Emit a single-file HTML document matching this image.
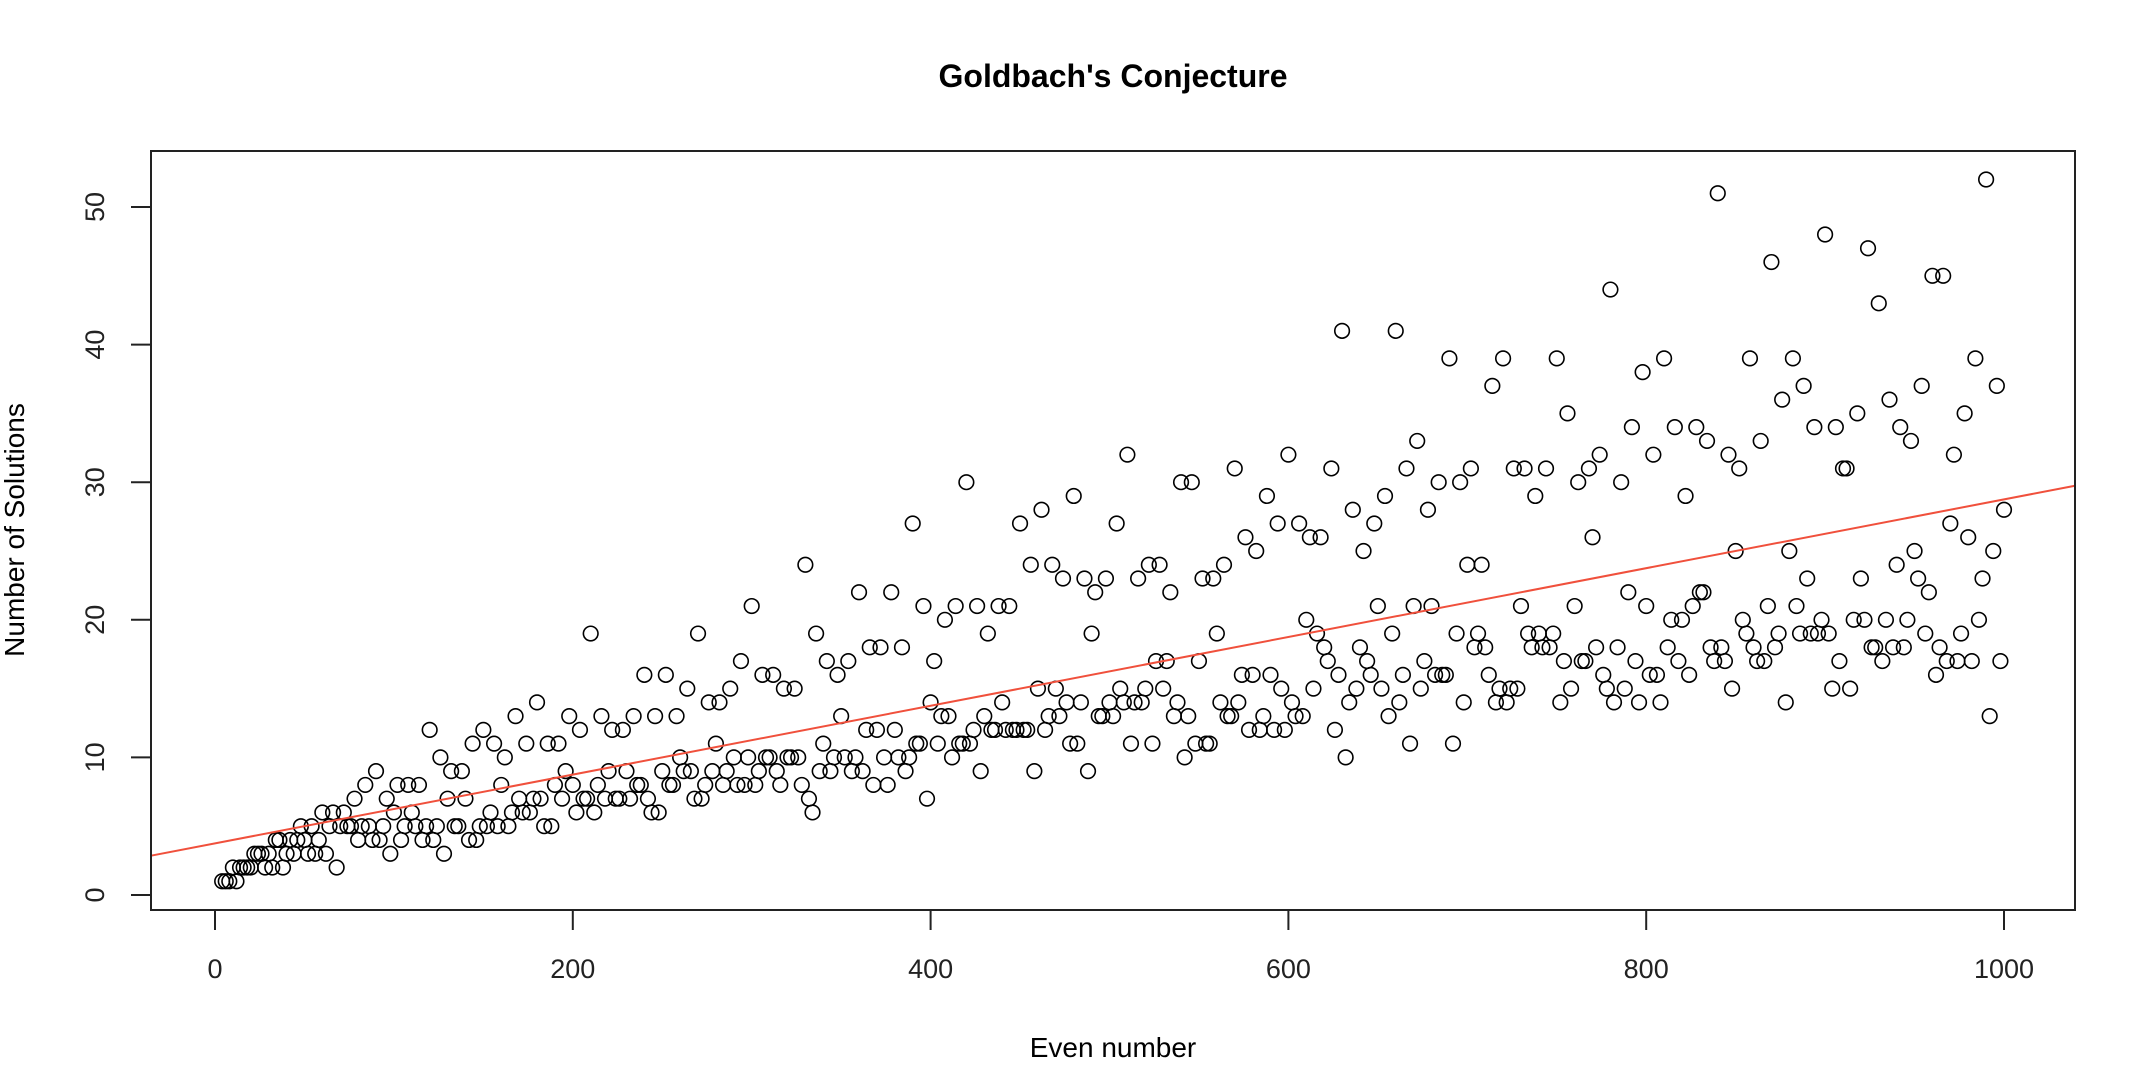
<!DOCTYPE html>
<html><head><meta charset="utf-8"><style>
html,body{margin:0;padding:0;background:#fff;}
svg{display:block;font-family:"Liberation Sans",Arial,sans-serif;}
</style></head><body>
<svg id="chart" width="2142" height="1092" viewBox="0 0 2142 1092" xmlns="http://www.w3.org/2000/svg">
<rect width="2142" height="1092" fill="#fff"/>
<text x="1113" y="87" font-size="32" font-weight="bold" text-anchor="middle" fill="#000">Goldbach's Conjecture</text>
<text x="1113" y="1057" font-size="28" text-anchor="middle" fill="#000">Even number</text>
<text transform="translate(24,530) rotate(-90)" font-size="28" text-anchor="middle" fill="#000">Number of Solutions</text>
<g id="marks"></g>
<rect x="151" y="151" width="1924" height="759" fill="none" stroke="#222" stroke-width="2"/>
<g id="axes"></g>
</svg>
<script>
const solutions = [
1,1,1,2,1,2,2,2,2,3, 3,3,2,3,2,4,4,2,3,4, 3,4,5,4,3,5,3,4,6,3, 5,6,2,5,6,5,5,7,4,5, 8,5,4,9,4,5,7,3,6,
8,4,5,8,6,5,8,4,5,12,
4,5,10,3,7,9,5,5,9,7,
4,11,4,5,12,5,6,11,5,8,
10,5,6,13,7,6,11,6,7,14,
7,5,11,5,8,11,7,9,13,8,
6,12,7,7,19,6,8,13,7,9,
12,7,7,12,9,7,13,8,8,16,
7,6,13,6,9,16,8,8,13,10,
9,15,9,7,19,7,8,14,9,11,
14,8,9,15,10,8,17,8,10,21,
8,9,16,10,10,16,9,8,15,10,
10,15,10,8,24,7,6,19,9,11,
17,9,10,16,13,10,17,9,10,22,
9,12,18,8,12,18,10,8,22,12,
10,18,9,10,27,11,11,21,7,14,
17,11,13,20,13,10,21,11,11,30,
11,12,21,9,13,19,12,12,21,14,
12,21,12,12,27,12,12,24,9,15,
28,12,13,24,15,13,23,14,11,29,
11,14,23,9,19,22,13,13,23,14,
13,27,15,14,32,11,14,23,14,15,
24,11,17,24,15,17,22,13,14,30,
10,13,30,11,17,23,11,11,23,19,
14,24,13,13,31,14,16,26,12,16,
25,12,13,29,16,12,27,15,12,32,
14,13,27,13,20,26,15,19,26,18,
17,31,12,16,41,10,14,28,15,18,
25,17,16,27,21,15,29,13,19,41,
14,16,31,11,21,33,15,17,28,21,
16,30,16,16,39,11,19,30,14,24,
31,18,19,24,18,16,37,14,15,39,
14,15,31,15,21,31,19,18,29,19,
18,31,18,19,39,14,17,35,15,21,
30,17,17,31,26,18,32,16,15,44,
14,18,30,15,22,34,17,14,38,21,
16,32,16,14,39,18,20,34,17,20,
29,16,21,34,22,22,33,18,17,51,
18,17,32,15,25,31,20,19,39,18,
17,33,17,21,46,18,19,36,14,25,
39,21,19,37,23,19,34,19,20,48,
19,15,34,17,31,31,15,20,35,23,
20,47,18,18,43,17,20,36,18,24,
34,18,20,33,25,23,37,19,22,45,
16,18,45,17,27,32,17,19,35,26,
17,39,20,23,52,13,25,37,17,28];
const evenNumbers = solutions.map((_, i) => 4 + 2 * i);
const xTicks = [0, 200, 400, 600, 800, 1000];
const yTicks = [0, 10, 20, 30, 40, 50];
const NS = "http://www.w3.org/2000/svg";
const xScale = v => 215 + (v / 1000) * (2004 - 215);
const yScale = v => 895 - (v / 50) * (895 - 207);
const marks = document.getElementById('marks');
const axes = document.getElementById('axes');
function mk(tag, attrs, parent) {
  const el = document.createElementNS(NS, tag);
  for (const k in attrs) el.setAttribute(k, attrs[k]);
  parent.appendChild(el);
  return el;
}
evenNumbers.forEach((n, i) => {
  const c = mk('circle', {cx: xScale(n), cy: yScale(solutions[i]), r: 7.3, fill: 'none', stroke: '#000', 'stroke-width': 1.6}, marks);
  
  
});
const N = solutions.length;
const mx = evenNumbers.reduce((a, b) => a + b, 0) / N;
const my = solutions.reduce((a, b) => a + b, 0) / N;
let sxy = 0, sxx = 0;
for (let i = 0; i < N; i++) { sxy += (evenNumbers[i] - mx) * (solutions[i] - my); sxx += (evenNumbers[i] - mx) ** 2; }
const slope = sxy / sxx, intercept = my - slope * mx;
const x0 = (151 - 215) * 1000 / (2004 - 215), x1 = (2075 - 215) * 1000 / (2004 - 215);
const line = mk('line', {x1: 151, y1: yScale(intercept + slope * x0), x2: 2075, y2: yScale(intercept + slope * x1), stroke: '#f0503c', 'stroke-width': 2}, marks);


const xAxisLine = mk('line', {x1: xScale(xTicks[0]), y1: 910, x2: xScale(xTicks[xTicks.length - 1]), y2: 910, stroke: '#222', 'stroke-width': 2}, axes);


xTicks.forEach(t => {
  const tk = mk('line', {x1: xScale(t), y1: 910, x2: xScale(t), y2: 930, stroke: '#222', 'stroke-width': 2}, axes);
  
  
  const lb = mk('text', {x: xScale(t), y: 978, 'font-size': 27, 'text-anchor': 'middle', fill: '#222'}, axes);
  lb.textContent = t;
  
  
});
const yAxisLine = mk('line', {x1: 151, y1: yScale(yTicks[0]), x2: 151, y2: yScale(yTicks[yTicks.length - 1]), stroke: '#222', 'stroke-width': 2}, axes);


yTicks.forEach(t => {
  const tk = mk('line', {x1: 131, y1: yScale(t), x2: 151, y2: yScale(t), stroke: '#222', 'stroke-width': 2}, axes);
  
  
  const lb = mk('text', {transform: `translate(104,${yScale(t)}) rotate(-90)`, 'font-size': 27, 'text-anchor': 'middle', fill: '#222'}, axes);
  lb.textContent = t;
  
  
});
</script>
</body></html>
